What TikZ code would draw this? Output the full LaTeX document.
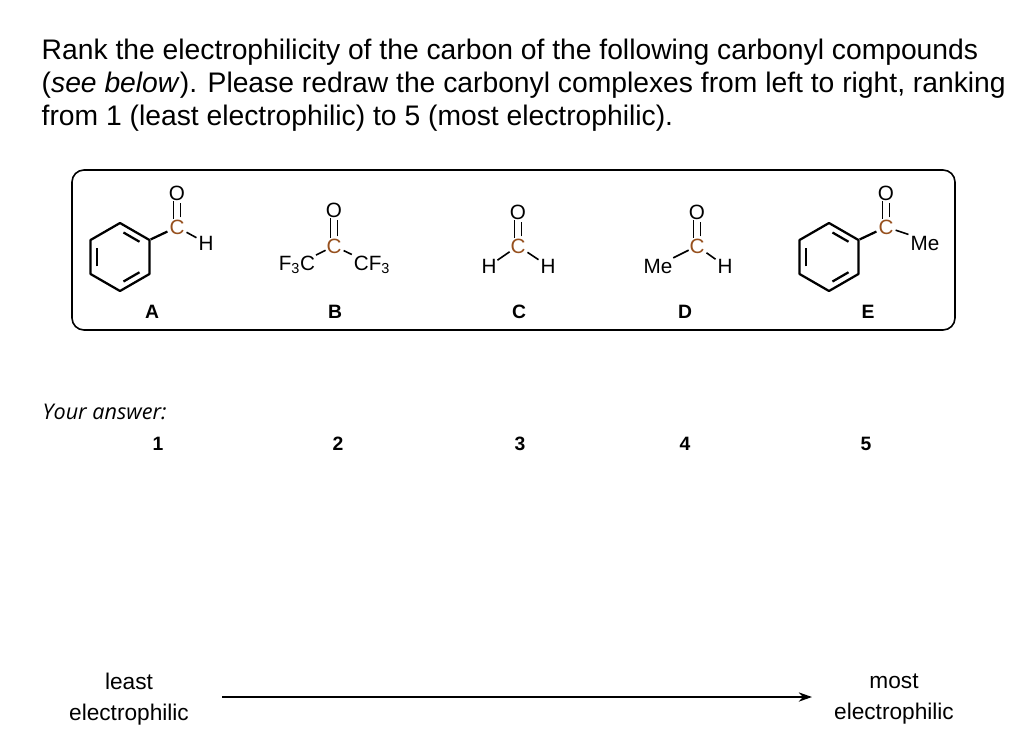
\documentclass[tikz,border=0pt]{standalone}
\usepackage{fontspec}
\setmainfont{Liberation Sans}
\newfontfamily\ansfont{Open Sans}
\usetikzlibrary{arrows.meta,calc}
\definecolor{cbrown}{RGB}{150,80,30}
\begin{document}
\begin{tikzpicture}[x=0.75pt,y=-0.75pt,
  atom/.style={inner sep=0.5pt,font=\fontsize{15.5}{15.5}\selectfont},
  catom/.style={atom,text=cbrown},
  lab/.style={font=\fontsize{14.5}{14.5}\selectfont\bfseries},
  bd/.style={line width=1.2pt,shorten <=1pt,shorten >=1pt},
  ring/.style={line width=1.7pt,line join=round}]
\useasboundingbox (0,0) rectangle (1024,733);
\node[anchor=west,align=left,font=\fontsize{21.2}{24.8}\selectfont] (title) at (37,85)
 {Rank the electrophilicity of the carbon of the following carbonyl compounds\\(\textit{see below}). Please redraw the carbonyl complexes from left to right, ranking\\from 1 (least electrophilic) to 5 (most electrophilic).};
\draw[line width=1.2pt,rounded corners=9] (72,170) rectangle (955,330);
% A
\coordinate (ac) at (120,257);
\foreach \i in {0,...,5}{\coordinate (a\i) at ({120+34*cos(90-60*\i)},{257-34*sin(90-60*\i)});}
\draw[ring] (a0)--(a1)--(a2)--(a3)--(a4)--(a5)--cycle;
\foreach \p/\q in {0/1,2/3,4/5}{\draw[ring,shorten <=3pt,shorten >=3pt] ($(a\p)!0.22!(ac)$) -- ($(a\q)!0.22!(ac)$);}
\node[catom] (aC) at (177,227) {C};
\node[atom] (aO) at (177,193) {O};
\node[atom] (aH) at (206,243) {H};
\draw[bd,line width=1.7pt] (a1) -- (aC);
\draw[bd] (aC)--(aH);
\draw[bd] ([xshift=-2.5]aC.north)--([xshift=-2.5]aO.south) ([xshift=2.5]aC.north)--([xshift=2.5]aO.south);
\node[lab] (lA) at (152,312) {A};
% B
\node[catom] (bC) at (334,246) {C};
\node[atom] (bO) at (334,210) {O};
\node[atom,anchor=east] (bL) at (316,265) {F\textsubscript{3}C};
\node[atom,anchor=west] (bR) at (353,265) {CF\textsubscript{3}};
\draw[bd] (bC)--(bL.north east) (bC)--(bR.north west);
\draw[bd] ([xshift=-2.5]bC.north)--([xshift=-2.5]bO.south) ([xshift=2.5]bC.north)--([xshift=2.5]bO.south);
\node[lab] (lB) at (335,312) {B};
% C
\node[catom] (cC) at (518,246) {C};
\node[atom] (cO) at (518,212) {O};
\node[atom] (cL) at (489,266) {H};
\node[atom] (cR) at (548,266) {H};
\draw[bd] (cC)--(cL) (cC)--(cR);
\draw[bd] ([xshift=-2.5]cC.north)--([xshift=-2.5]cO.south) ([xshift=2.5]cC.north)--([xshift=2.5]cO.south);
\node[lab] (lC) at (519,312) {C};
% D
\node[catom] (dC) at (697,246) {C};
\node[atom] (dO) at (697,212) {O};
\node[atom] (dL) at (658,266) {Me};
\node[atom] (dR) at (725,266) {H};
\draw[bd] (dC)--(dL.north east) (dC)--(dR);
\draw[bd] ([xshift=-2.5]dC.north)--([xshift=-2.5]dO.south) ([xshift=2.5]dC.north)--([xshift=2.5]dO.south);
\node[lab] (lD) at (685,312) {D};
% E
\coordinate (ec) at (829,257);
\foreach \i in {0,...,5}{\coordinate (e\i) at ({829+34*cos(90-60*\i)},{257-34*sin(90-60*\i)});}
\draw[ring] (e0)--(e1)--(e2)--(e3)--(e4)--(e5)--cycle;
\foreach \p/\q in {0/1,2/3,4/5}{\draw[ring,shorten <=3pt,shorten >=3pt] ($(e\p)!0.22!(ec)$) -- ($(e\q)!0.22!(ec)$);}
\node[catom] (eC) at (886,227) {C};
\node[atom] (eO) at (886,193) {O};
\node[atom] (eMe) at (925,243) {Me};
\draw[bd,line width=1.7pt] (e1) -- (eC);
\draw[bd] (eC)--(eMe.north west);
\draw[bd] ([xshift=-2.5]eC.north)--([xshift=-2.5]eO.south) ([xshift=2.5]eC.north)--([xshift=2.5]eO.south);
\node[lab] (lE) at (868,312) {E};
% answer
\node[anchor=west,font=\ansfont\itshape\fontsize{16.2}{17}\selectfont] (ans) at (38,412) {Your answer:};
\foreach \n/\x in {1/158,2/338,3/520,4/685,5/866}{\node[lab] (n\n) at (\x,444) {\n};}
\node[align=center,font=\fontsize{17}{23.5}\selectfont] (least) at (129,699) {least\\electrophilic};
\node[align=center,font=\fontsize{17}{23.5}\selectfont] (most) at (894,699) {most\\electrophilic};
\coordinate (s) at (222,697); \coordinate (t) at (812,697);
\draw[line width=1.1pt,-{Stealth[length=10pt,width=7pt]}] (s) -- (t);
\end{tikzpicture}
\end{document}
